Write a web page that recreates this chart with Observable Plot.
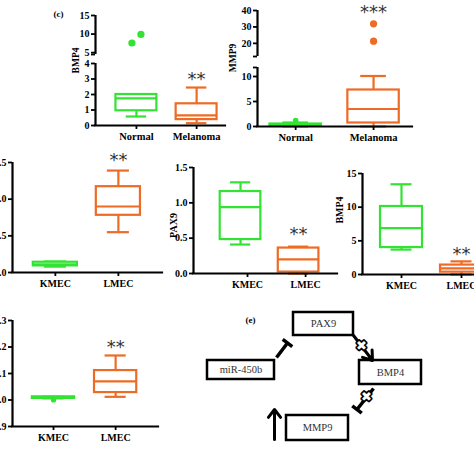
<!DOCTYPE html>
<html><head><meta charset="utf-8">
<script src="https://cdn.jsdelivr.net/npm/d3@7"></script>
<script src="https://cdn.jsdelivr.net/npm/@observablehq/plot@0.6"></script>
<style>
body{margin:0;background:#fff}
#fig{position:relative;width:474px;height:474px;overflow:hidden;background:#fff}
#fig svg{position:absolute;overflow:visible;background:transparent}
</style></head><body><div id="fig"></div>
<script>
const GREEN = "#33e333", ORANGE = "#ee6b25";

// ---- Panel (c) BMP4: Normal vs Melanoma (broken axis)
const cBmp4Groups = ["Normal", "Melanoma"];
const cBmp4Low = [0.58, 0.15];
const cBmp4Q1 = [0.95, 0.38];
const cBmp4Median = [1.75, 0.65];
const cBmp4Q3 = [2.0, 1.4];
const cBmp4High = [2.0, 2.45];
const cBmp4OutGroup = [0, 0];
const cBmp4OutValue = [7.6, 9.9];
const cBmp4Sig = ["", "**"];
const cBmp4UpperTicks = [5, 10, 15];
const cBmp4LowerTicks = [0, 1, 2, 3, 4];

// ---- Panel (c) MMP9: Normal vs Melanoma (broken axis)
const cMmp9Groups = ["Normal", "Melanoma"];
const cMmp9Low = [0.0, 0.0];
const cMmp9Q1 = [0.1, 0.7];
const cMmp9Median = [0.3, 3.5];
const cMmp9Q3 = [0.5, 7.3];
const cMmp9High = [0.8, 10.1];
const cMmp9OutGroup = [0, 1, 1];
const cMmp9OutValue = [1.2, 21.3, 31.9];
const cMmp9Sig = ["", "***"];
const cMmp9UpperTicks = [20, 30, 40];
const cMmp9LowerTicks = [0, 5, 10];

// ---- Panel (d) row 2, left (label cut off)
const dAGroups = ["KMEC", "LMEC"];
const dALow = [0.08, 0.55];
const dAQ1 = [0.09, 0.78];
const dAMedian = [0.11, 0.9];
const dAQ3 = [0.14, 1.17];
const dAHigh = [0.15, 1.39];
const dASig = ["", "**"];
const dATicks = [0, 0.5, 1.0, 1.5];

// ---- Panel (d) PAX9
const dPaxGroups = ["KMEC", "LMEC"];
const dPaxLow = [0.41, 0.0];
const dPaxQ1 = [0.48, 0.02];
const dPaxMedian = [0.94, 0.2];
const dPaxQ3 = [1.16, 0.36];
const dPaxHigh = [1.29, 0.38];
const dPaxSig = ["", "**"];
const dPaxTicks = [0, 0.5, 1.0, 1.5];

// ---- Panel (d) BMP4
const dBmpGroups = ["KMEC", "LMEC"];
const dBmpLow = [3.7, 0.0];
const dBmpQ1 = [4.0, 0.35];
const dBmpMedian = [6.9, 0.9];
const dBmpQ3 = [10.1, 1.4];
const dBmpHigh = [13.4, 1.95];
const dBmpSig = ["", "**"];
const dBmpTicks = [0, 5, 10, 15];

// ---- Panel row 3, left (label cut off)
const dBGroups = ["KMEC", "LMEC"];
const dBLow = [1.006, 1.012];
const dBQ1 = [1.006, 1.028];
const dBMedian = [1.009, 1.07];
const dBQ3 = [1.012, 1.111];
const dBHigh = [1.012, 1.168];
const dBOutGroup = [0];
const dBOutValue = [1.0];
const dBSig = ["", "**"];
const dBTicks = [0.9, 1.0, 1.1, 1.2, 1.3];

// ---- Panel (e) pathway diagram
const nodeNames = ["PAX9", "miR-450b", "BMP4", "MMP9"];
const edgeFrom = ["miR-450b", "PAX9", "BMP4"];
const edgeTo = ["PAX9", "BMP4", "MMP9"];
const edgeKind = ["inhibit", "activate", "inhibit"];
const edgeBlocked = [false, true, true];

const fig = document.getElementById("fig");
const FONT = "Liberation Serif";

function boxPanel(p) {
  const mL = 40, mR = 6, mT = 24, mB = 28;
  const w = p.right - p.axisX, h = p.bottom - p.top;
  const [y0, y1] = p.yDomain;
  const rows = p.groups.map((g, i) => ({
    i, g, lo: p.low[i], q1: p.q1[i], med: p.median[i], q3: p.q3[i], hi: p.high[i],
    c: p.colors[i], sig: p.sig ? p.sig[i] : ""
  }));
  const outs = (p.outGroup || []).map((gi, k) => ({gi, v: p.outValue[k], c: p.colors[gi]}))
    .filter(d => d.v >= y0 && d.v <= y1);
  const byG = d3.group(outs, d => d.gi);
  for (const [gi, arr] of byG) {
    arr.forEach((d, k) => { d.x = gi + (p.spread ? (k - (arr.length - 1) / 2) * 2 * p.spread : 0); });
  }
  const hw = p.boxHalf, cw = hw / 2;
  const marks = [];
  if (p.boxes) {
    const sw = 2.2;
    marks.push(
      Plot.ruleX(rows, {x: "i", y1: "q3", y2: "hi", stroke: "c", strokeWidth: sw}),
      Plot.ruleX(rows, {x: "i", y1: "lo", y2: "q1", stroke: "c", strokeWidth: sw}),
      Plot.ruleY(rows, {y: "hi", x1: d => d.i - cw, x2: d => d.i + cw, stroke: "c", strokeWidth: sw}),
      Plot.ruleY(rows, {y: "lo", x1: d => d.i - cw, x2: d => d.i + cw, stroke: "c", strokeWidth: sw}),
      Plot.rect(rows, {x1: d => d.i - hw, x2: d => d.i + hw, y1: "q1", y2: "q3", fill: "white", stroke: "c", strokeWidth: sw}),
      Plot.ruleY(rows, {y: "med", x1: d => d.i - hw, x2: d => d.i + hw, stroke: "c", strokeWidth: sw})
    );
  }
  marks.push(Plot.dot(outs, {x: "x", y: "v", r: p.dotR || 3.6, fill: "c", stroke: null}));
  if (p.showSig) {
    const sigRows = rows.filter(d => d.sig).map(d => ({
      ...d, top: Math.max(p.boxes ? d.hi : -Infinity, ...outs.filter(o => o.gi === d.i).map(o => o.v))
    }));
    marks.push(Plot.text(sigRows, {x: "i", y: "top", text: "sig", dy: p.sigDy, fontSize: 18,
      fill: "#333", fontFamily: "DejaVu Sans", fontWeight: "normal", lineAnchor: "middle"}));
  }
  const caps = new Set(p.caps || []);
  const fmt = p.format || (d => String(d));
  marks.push(Plot.axisY({ticks: [...p.yTicks, ...(p.caps || [])], tickFormat: d => caps.has(d) ? "" : fmt(d),
    tickSize: 4, tickPadding: 2, strokeWidth: 1.8, fontSize: p.tickFont || 10, fontWeight: "bold",
    fontFamily: FONT, label: null}));
  marks.push(Plot.ruleX([p.xDomain[0]], {stroke: "black", strokeWidth: 2.2}));
  if (p.xAxis) {
    marks.push(Plot.axisX({ticks: p.groups.map((g, i) => i), tickFormat: i => p.groups[i],
      tickSize: 4, tickPadding: 3, strokeWidth: 1.8, fontSize: p.xFont || 10, fontWeight: "bold",
      fontFamily: FONT, label: null, dx: p.xLabelDx || 0}));
    marks.push(Plot.ruleY([y0], {stroke: "black", strokeWidth: 2.2, strokeLinecap: "square"}));
  }
  if (p.ylabel) {
    marks.push(Plot.text([p.ylabel], {frameAnchor: "left", rotate: -90, dx: p.ylabelDx, dy: p.ylabelDy,
      fontSize: p.ylabelFont || 10, fontWeight: "bold", fontFamily: FONT, textAnchor: "middle", fill: "black"}));
  }
  if (p.tag) {
    marks.push(Plot.text([p.tag], {frameAnchor: "top-left", dx: p.tagDx, dy: p.tagDy,
      fontSize: 9, fontWeight: "bold", fontFamily: FONT, fill: "black"}));
  }
  const svg = Plot.plot({
    width: w + mL + mR, height: h + mT + mB,
    marginLeft: mL, marginRight: mR, marginTop: mT, marginBottom: mB,
    x: {type: "linear", domain: p.xDomain, axis: null},
    y: {type: "linear", domain: p.yDomain, axis: null},
    color: {type: "identity"},
    style: {fontFamily: FONT, fontWeight: "bold", color: "black", background: "transparent", overflow: "visible"},
    marks
  });
  svg.style.position = "absolute";
  svg.style.left = (p.axisX - mL) + "px";
  svg.style.top = (p.top - mT) + "px";
  fig.appendChild(svg);
}

const twoColors = [GREEN, ORANGE];

boxPanel({groups: cBmp4Groups, low: cBmp4Low, q1: cBmp4Q1, median: cBmp4Median, q3: cBmp4Q3, high: cBmp4High,
  outGroup: cBmp4OutGroup, outValue: cBmp4OutValue, colors: twoColors, spread: 0.075,
  axisX: 95, right: 225, top: 15, bottom: 54, xDomain: [-0.68, 1.48], yDomain: [4.5, 15],
  yTicks: cBmp4UpperTicks, caps: [4.5], boxes: false, xAxis: false, boxHalf: 0.34,
  tag: "(c)", tagDx: -42, tagDy: -5});
boxPanel({groups: cBmp4Groups, low: cBmp4Low, q1: cBmp4Q1, median: cBmp4Median, q3: cBmp4Q3, high: cBmp4High,
  outGroup: cBmp4OutGroup, outValue: cBmp4OutValue, colors: twoColors, sig: cBmp4Sig, showSig: true, sigDy: -8,
  axisX: 95, right: 225, top: 63, bottom: 125, xDomain: [-0.68, 1.48], yDomain: [0, 4],
  yTicks: cBmp4LowerTicks, boxes: true, xAxis: true, boxHalf: 0.34, xFont: 10.5,
  ylabel: "BMP4", ylabelDx: -20, ylabelDy: -34, ylabelFont: 9.5});
boxPanel({groups: cMmp9Groups, low: cMmp9Low, q1: cMmp9Q1, median: cMmp9Median, q3: cMmp9Q3, high: cMmp9High,
  outGroup: cMmp9OutGroup, outValue: cMmp9OutValue, colors: twoColors, sig: cMmp9Sig, showSig: true, sigDy: -12,
  axisX: 257, right: 412, top: 10, bottom: 56, xDomain: [-0.49, 1.5], yDomain: [12, 40],
  yTicks: cMmp9UpperTicks, caps: [12], boxes: false, xAxis: false, boxHalf: 0.33});
boxPanel({groups: cMmp9Groups, low: cMmp9Low, q1: cMmp9Q1, median: cMmp9Median, q3: cMmp9Q3, high: cMmp9High,
  outGroup: cMmp9OutGroup, outValue: cMmp9OutValue, colors: twoColors, dotR: 2.8,
  axisX: 257, right: 412, top: 67, bottom: 126, xDomain: [-0.49, 1.5], yDomain: [0, 11.8],
  yTicks: cMmp9LowerTicks, caps: [11.8], boxes: true, xAxis: true, boxHalf: 0.33, xFont: 10.5,
  ylabel: "MMP9", ylabelDx: -25, ylabelDy: -39, ylabelFont: 9.5});
boxPanel({groups: dAGroups, low: dALow, q1: dAQ1, median: dAMedian, q3: dAQ3, high: dAHigh,
  colors: twoColors, sig: dASig, showSig: true, sigDy: -10,
  axisX: 12, right: 162, top: 162, bottom: 272, xDomain: [-0.68, 1.70], yDomain: [0, 1.5],
  yTicks: dATicks, format: d3.format(".1f"), boxes: true, xAxis: true, boxHalf: 0.35});
boxPanel({groups: dPaxGroups, low: dPaxLow, q1: dPaxQ1, median: dPaxMedian, q3: dPaxQ3, high: dPaxHigh,
  colors: twoColors, sig: dPaxSig, showSig: true, sigDy: -12,
  axisX: 193, right: 337, top: 167, bottom: 273, xDomain: [-0.81, 1.67], yDomain: [0, 1.5],
  yTicks: dPaxTicks, format: d3.format(".1f"), boxes: true, xAxis: true, boxHalf: 0.35, xLabelDx: 7,
  ylabel: "PAX9", ylabelDx: -20, ylabelDy: 5});
boxPanel({groups: dBmpGroups, low: dBmpLow, q1: dBmpQ1, median: dBmpMedian, q3: dBmpQ3, high: dBmpHigh,
  colors: twoColors, sig: dBmpSig, showSig: true, sigDy: -7,
  axisX: 362, right: 500, top: 173, bottom: 274, xDomain: [-0.65, 1.65], yDomain: [0, 15],
  yTicks: dBmpTicks, boxes: true, xAxis: true, boxHalf: 0.35,
  ylabel: "BMP4", ylabelDx: -23, ylabelDy: -14});
boxPanel({groups: dBGroups, low: dBLow, q1: dBQ1, median: dBMedian, q3: dBQ3, high: dBHigh,
  outGroup: dBOutGroup, outValue: dBOutValue, colors: twoColors, dotR: 2.6, sig: dBSig, showSig: true, sigDy: -8,
  axisX: 12, right: 158, top: 320, bottom: 426, xDomain: [-0.66, 1.69], yDomain: [0.9, 1.3],
  yTicks: dBTicks, format: d3.format(".1f"), boxes: true, xAxis: true, boxHalf: 0.34});

// ---- (e) diagram, in a local layout space (1 unit = 1 px)
const layout = {
  origin: [200, 300], size: [274, 174],
  nodes: {"PAX9": [123, 23.5, 60, 23], "miR-450b": [40.5, 69.5, 67, 19], "BMP4": [190, 72, 62, 24], "MMP9": [117, 127.5, 62, 25]},
  edges: [[76, 57, 87, 42.5], [153, 35, 172, 60], [173, 88, 156.5, 109]],
  up: [74, 139, 74, 109],
  tag: [50, 20]
};
(function diagram() {
  const nodes = nodeNames.map(n => {
    const [cx, cy, w, h] = layout.nodes[n];
    return {n, x1: cx - w / 2, x2: cx + w / 2, y1: cy - h / 2, y2: cy + h / 2, cx, cy};
  });
  const edges = edgeFrom.map((f, k) => {
    const [x1, y1, x2, y2] = layout.edges[k];
    const L = Math.hypot(x2 - x1, y2 - y1), ux = (x2 - x1) / L, uy = (y2 - y1) / L;
    return {f, t: edgeTo[k], kind: edgeKind[k], blocked: edgeBlocked[k], x1, y1, x2, y2,
      bx1: x2 - uy * 6, by1: y2 + ux * 6, bx2: x2 + uy * 6, by2: y2 - ux * 6,
      mx: x1 + (x2 - x1) * 0.42, my: y1 + (y2 - y1) * 0.42};
  });
  const inh = edges.filter(e => e.kind === "inhibit");
  const act = edges.filter(e => e.kind === "activate");
  const blk = edges.filter(e => e.blocked);
  const [W, H] = layout.size;
  const svg = Plot.plot({
    width: W, height: H, margin: 0,
    x: {domain: [0, W], axis: null}, y: {domain: [H, 0], axis: null},
    style: {background: "transparent", overflow: "visible"},
    marks: [
      Plot.rect(nodes, {x1: "x1", x2: "x2", y1: "y1", y2: "y2", fill: "white", stroke: "black", strokeWidth: 2.5}),
      Plot.text(nodes, {x: "cx", y: "cy", text: "n", fontFamily: FONT, fontSize: 10.5, fill: "#333", fontWeight: "normal"}),
      Plot.link(inh, {x1: "x1", y1: "y1", x2: "x2", y2: "y2", stroke: "black", strokeWidth: 3.5}),
      Plot.link(inh, {x1: "bx1", y1: "by1", x2: "bx2", y2: "by2", stroke: "black", strokeWidth: 3.5}),
      Plot.arrow(act, {x1: "x1", y1: "y1", x2: "x2", y2: "y2", stroke: "black", strokeWidth: 3, headLength: 10, headAngle: 70}),
      Plot.arrow([layout.up], {x1: d => d[0], y1: d => d[1], x2: d => d[2], y2: d => d[3], stroke: "black", strokeWidth: 3, headLength: 11, headAngle: 75}),
      Plot.text(blk, {x: "mx", y: "my", text: () => "✖", fontFamily: "DejaVu Sans", fontSize: 13, fill: "white", stroke: "black", strokeWidth: 3.5}),
      Plot.text(["(e)"], {x: () => layout.tag[0], y: () => layout.tag[1], fontFamily: FONT, fontSize: 9, fontWeight: "bold", fill: "black"})
    ]
  });
  svg.style.position = "absolute";
  svg.style.left = layout.origin[0] + "px";
  svg.style.top = layout.origin[1] + "px";
  fig.appendChild(svg);
})();
</script></body></html>
